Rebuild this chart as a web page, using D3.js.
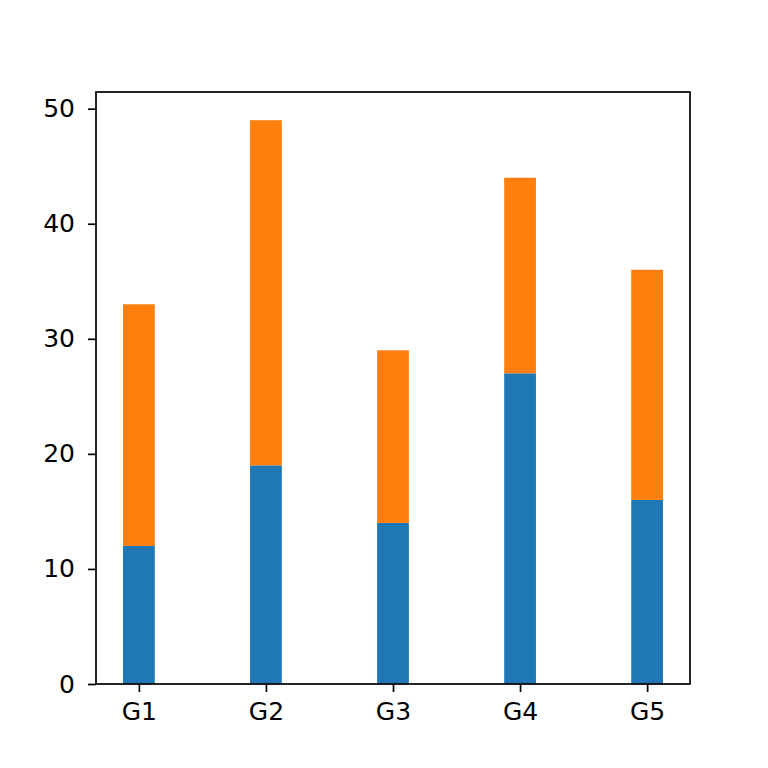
<!DOCTYPE html>
<html>
<head>
<meta charset="utf-8">
<script src="https://cdn.jsdelivr.net/npm/d3@7"></script>
<style>
    body { margin: 0; background: #fff; }
    text { font-family: "DejaVu Sans", sans-serif; fill: #000; }
</style>
</head>
<body>
<div class="chart"></div>
<script>
var groups = ['G1', 'G2', 'G3', 'G4', 'G5'];
var bottomVals = [12, 19, 14, 27, 16];
var topVals = [21, 30, 15, 17, 20];
var yTicks = [0, 10, 20, 30, 40, 50];

(function () {
    var W = 768, H = 768;
    var left = 96, right = 690, top = 92, bottom = 684;
    var barW = 0.25;

    var svg = d3.select('.chart').append('svg')
        .attr('width', W)
        .attr('height', H);

    var x = d3.scaleLinear()
        .domain([-0.3375, groups.length - 1 + 0.3375])
        .range([left, right]);

    var yMax = d3.max(bottomVals.map(function (v, i) { return v + topVals[i]; })) * 1.05;
    var y = d3.scaleLinear()
        .domain([0, yMax])
        .range([bottom, top]);

    // bottom series
    svg.append('g').selectAll('rect')
        .data(bottomVals)
        .enter()
        .append('rect')
        .attr('x', function (d, i) { return x(i - barW / 2); })
        .attr('width', function () { return x(barW) - x(0); })
        .attr('y', function (d) { return y(d); })
        .attr('height', function (d) { return y(0) - y(d); })
        .attr('fill', '#1f77b4');

    // stacked series
    svg.append('g').selectAll('rect')
        .data(topVals)
        .enter()
        .append('rect')
        .attr('x', function (d, i) { return x(i - barW / 2); })
        .attr('width', function () { return x(barW) - x(0); })
        .attr('y', function (d, i) { return y(bottomVals[i] + d); })
        .attr('height', function (d, i) { return y(bottomVals[i]) - y(bottomVals[i] + d); })
        .attr('fill', '#ff7f0e');

    var yAxis = d3.axisLeft(y)
        .tickValues(yTicks)
        .tickSize(8)
        .tickPadding(13)
        .tickFormat(d3.format('d'));

    var xAxis = d3.axisBottom(x)
        .tickValues(d3.range(groups.length))
        .tickSize(8)
        .tickPadding(10)
        .tickFormat(function (d) { return groups[d]; });

    var gy = svg.append('g')
        .attr('transform', 'translate(' + left + ',0)')
        .call(yAxis);
    var gx = svg.append('g')
        .attr('transform', 'translate(0,' + bottom + ')')
        .call(xAxis);

    [gx, gy].forEach(function (g) {
        g.select('.domain').remove();
        g.attr('font-size', null).attr('font-family', null);
        g.selectAll('line').attr('stroke', '#000').attr('stroke-width', 1.7);
        g.selectAll('text')
            .style('font-size', '25px')
            .style('font-family', '"DejaVu Sans", sans-serif')
            .attr('fill', '#000');
    });

    // frame
    svg.append('rect')
        .attr('x', left)
        .attr('y', top)
        .attr('width', right - left)
        .attr('height', bottom - top)
        .attr('fill', 'none')
        .attr('stroke', '#000')
        .attr('stroke-width', 1.7);
})();
</script>
</body>
</html>
